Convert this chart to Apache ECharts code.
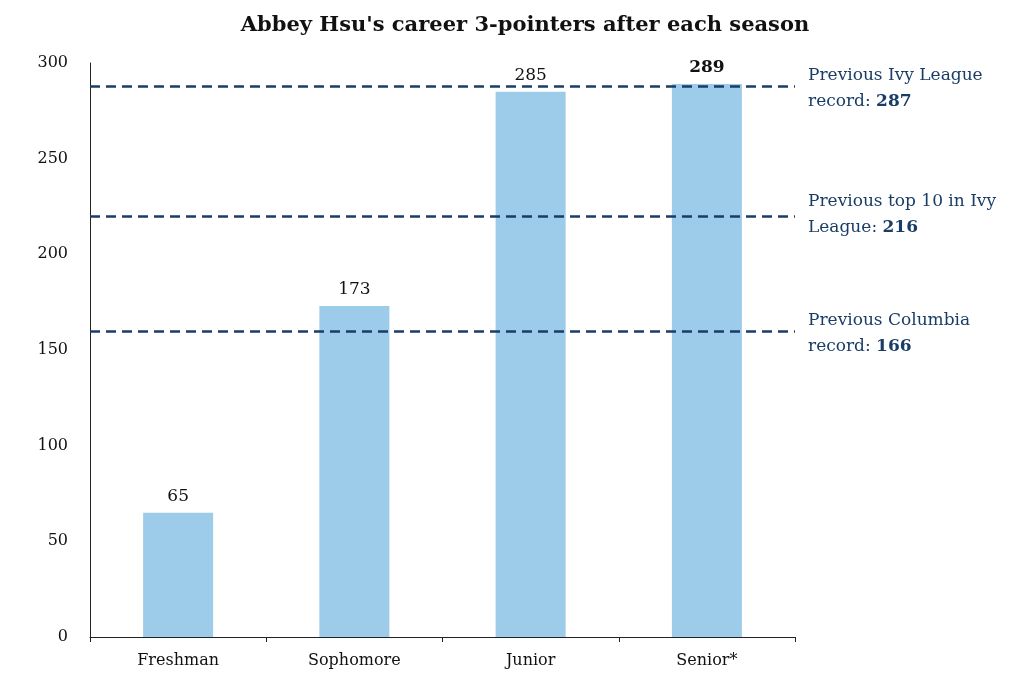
<!DOCTYPE html>
<html><head><meta charset="utf-8">
<script src="https://cdn.jsdelivr.net/npm/echarts@6/dist/echarts.min.js"></script>
<style>html,body{margin:0;background:#fff}#c{width:1024px;height:680px}</style>
</head><body><div id="c"></div>
<script>
const categories = ['Freshman','Sophomore','Junior','Senior*'];
const values = [65,173,285,289];
const refLines = [288,220,160];
const refLabels = [['Previous Ivy League','record: ','287'],['Previous top 10 in Ivy','League: ','216'],['Previous Columbia','record: ','166']];
const navy = '#1a3d66';
const font = '"DejaVu Serif", "Liberation Serif", serif';
const chart = echarts.init(document.getElementById('c'));
chart.setOption({
  animation:false,
  title:{text:"Abbey Hsu's career 3-pointers after each season",left:520,top:10,textAlign:'center',
    textStyle:{fontFamily:font,fontWeight:'bold',fontSize:21,color:'#111'}},
  grid:{left:90,right:229,top:63,bottom:43},
  xAxis:{type:'category',data:categories,
    axisLine:{lineStyle:{color:'#222'}},axisTick:{show:true,alignWithLabel:false,lineStyle:{color:'#222'}},
    axisLabel:{fontFamily:font,fontSize:16,color:'#111',margin:16}},
  yAxis:{type:'value',min:0,max:300,interval:50,splitLine:{show:false},
    axisLine:{show:true,lineStyle:{color:'#222'}},
    axisLabel:{fontFamily:font,fontSize:16,color:'#111',margin:22}},
  series:[{type:'bar',data:values.map((v,i)=>({value:v,label:{fontWeight:i===3?'bold':'normal'}})),barWidth:70,
    itemStyle:{color:'#9dcbea'},
    label:{show:true,position:'top',fontFamily:font,fontSize:17,color:'#111',distance:8},
    markLine:{symbol:'none',silent:true,label:{show:false},
      lineStyle:{color:navy,type:[10,6],width:2.5},
      data:refLines.map(v=>({yAxis:v}))}}],
  graphic: refLabels.map((t,i)=>({type:'text',left:808,top:[63,189,308][i],
    style:{text:t[0]+'\n{n|'+t[1]+'}{b|'+t[2]+'}',fill:navy,fontFamily:font,fontSize:17,lineHeight:26,
      rich:{n:{fontFamily:font,fontSize:17,color:navy},b:{fontFamily:font,fontSize:17,fontWeight:'bold',color:navy}}}}))
});
</script></body></html>
